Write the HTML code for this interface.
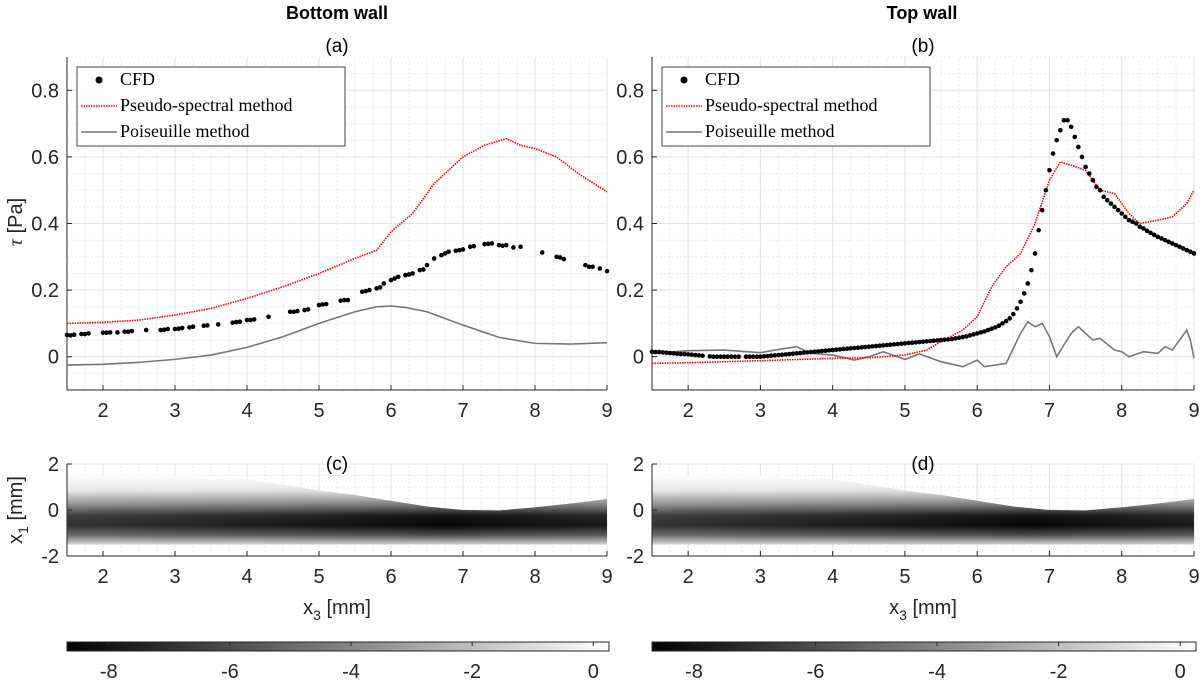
<!DOCTYPE html>
<html><head><meta charset="utf-8"><style>
html,body{margin:0;padding:0;background:#fff;}
svg{display:block;font-family:"Liberation Sans",sans-serif;}
</style></head><body>
<svg id="fig" width="1200" height="686" viewBox="0 0 1200 686">
<defs>
<linearGradient id="vgrad" x1="0" y1="0" x2="0" y2="1">
<stop offset="0" stop-color="#ffffff"/>
<stop offset="0.22" stop-color="#e0e0e0"/>
<stop offset="0.42" stop-color="#7a7a7a"/>
<stop offset="0.58" stop-color="#151515"/>
<stop offset="0.72" stop-color="#050505"/>
<stop offset="0.86" stop-color="#4a4a4a"/>
<stop offset="1" stop-color="#d0d0d0"/>
</linearGradient>
<linearGradient id="hfade" x1="0" y1="0" x2="1" y2="0">
<stop offset="0" stop-color="#fff" stop-opacity="0.18"/>
<stop offset="0.4" stop-color="#fff" stop-opacity="0.08"/>
<stop offset="0.7" stop-color="#fff" stop-opacity="0"/>
<stop offset="1" stop-color="#fff" stop-opacity="0.08"/>
</linearGradient>
<linearGradient id="cbar" x1="0" y1="0" x2="1" y2="0">
<stop offset="0" stop-color="#000"/><stop offset="1" stop-color="#fff"/>
</linearGradient>
</defs>
<text x="337" y="19" font-size="18" font-weight="bold" text-anchor="middle" fill="#000">Bottom wall</text>
<text x="922" y="19" font-size="18" font-weight="bold" text-anchor="middle" fill="#000">Top wall</text>
<g id="layer"></g>
</svg>
<script>
// ---------- data ----------
const aPseudoX=[1.5,2,2.5,3,3.5,4,4.5,5,5.5,5.8,6,6.3,6.6,6.8,7,7.3,7.6,7.8,8,8.3,8.6,9];
const aPseudoY=[0.10,0.103,0.11,0.125,0.145,0.175,0.21,0.25,0.295,0.32,0.375,0.43,0.52,0.56,0.60,0.635,0.655,0.635,0.625,0.60,0.55,0.495];
const aCfdX=[1.5,1.55,1.6,1.7,1.75,1.8,2.0,2.05,2.1,2.2,2.3,2.35,2.4,2.6,2.8,2.85,2.9,3.0,3.05,3.1,3.2,3.25,3.4,3.45,3.6,3.8,3.85,3.9,4.0,4.05,4.1,4.3,4.6,4.65,4.7,4.8,4.85,5.0,5.05,5.1,5.3,5.35,5.4,5.6,5.65,5.7,5.8,5.85,5.9,6.0,6.05,6.1,6.2,6.25,6.3,6.4,6.45,6.5,6.6,6.7,6.75,6.8,6.9,6.95,7.0,7.1,7.15,7.3,7.35,7.4,7.5,7.55,7.6,7.7,7.8,8.1,8.3,8.35,8.4,8.7,8.75,8.8,8.9,9.0];
const aCfdY=[0.065,0.064,0.066,0.068,0.068,0.07,0.072,0.072,0.073,0.073,0.075,0.075,0.077,0.08,0.08,0.081,0.083,0.083,0.084,0.086,0.088,0.09,0.093,0.094,0.097,0.102,0.104,0.105,0.11,0.11,0.112,0.12,0.135,0.135,0.137,0.14,0.142,0.155,0.157,0.158,0.168,0.17,0.17,0.195,0.197,0.2,0.205,0.208,0.22,0.23,0.235,0.24,0.245,0.247,0.25,0.26,0.262,0.275,0.295,0.305,0.31,0.315,0.318,0.32,0.322,0.33,0.332,0.338,0.339,0.34,0.335,0.333,0.335,0.328,0.33,0.313,0.30,0.298,0.293,0.275,0.27,0.27,0.265,0.257];
const aPoisX=[1.5,2,2.5,3,3.5,4,4.5,5,5.5,5.8,6,6.2,6.5,7,7.5,8,8.5,9];
const aPoisY=[-0.025,-0.023,-0.017,-0.008,0.005,0.028,0.06,0.10,0.135,0.15,0.152,0.148,0.135,0.095,0.058,0.04,0.038,0.042];
const bPseudoX=[1.5,2,3,4,4.5,5,5.3,5.5,5.8,6,6.2,6.4,6.6,6.8,7,7.15,7.3,7.5,7.7,7.9,8.1,8.25,8.5,8.7,8.9,9];
const bPseudoY=[-0.02,-0.018,-0.012,-0.005,-0.003,0.005,0.02,0.045,0.08,0.12,0.21,0.27,0.31,0.40,0.53,0.585,0.575,0.56,0.50,0.49,0.43,0.40,0.41,0.42,0.46,0.50];
const bCfdX=[1.5,1.55,1.6,1.65,1.7,1.75,1.8,1.85,1.9,1.95,2.0,2.05,2.1,2.15,2.2,2.3,2.35,2.4,2.45,2.5,2.55,2.6,2.65,2.7,2.8,2.85,2.9,2.95,3.0,3.05,3.1,3.15,3.2,3.25,3.3,3.35,3.4,3.45,3.5,3.55,3.6,3.65,3.7,3.75,3.8,3.85,3.9,3.95,4.0,4.05,4.1,4.15,4.2,4.25,4.3,4.35,4.4,4.45,4.5,4.55,4.6,4.65,4.7,4.75,4.8,4.85,4.9,4.95,5.0,5.05,5.1,5.15,5.2,5.25,5.3,5.35,5.4,5.45,5.5,5.55,5.6,5.65,5.7,5.75,5.8,5.85,5.9,5.95,6.0,6.05,6.1,6.15,6.2,6.25,6.3,6.35,6.4,6.45,6.5,6.55,6.6,6.65,6.7,6.75,6.8,6.85,6.9,6.95,7.0,7.05,7.1,7.15,7.2,7.25,7.3,7.35,7.4,7.45,7.5,7.55,7.6,7.65,7.7,7.75,7.8,7.85,7.9,7.95,8.0,8.05,8.1,8.15,8.2,8.25,8.3,8.35,8.4,8.45,8.5,8.55,8.6,8.65,8.7,8.75,8.8,8.85,8.9,8.95,9.0];
const bCfdY=[0.015,0.014,0.014,0.013,0.012,0.011,0.01,0.009,0.008,0.008,0.007,0.006,0.005,0.004,0.003,0.001,0.0,0.0,0.0,0.0,0.0,0.0,0.0,0.0,0.0,0.0,0.0,0.0,0.0,0.001,0.002,0.003,0.004,0.005,0.006,0.007,0.008,0.009,0.01,0.011,0.012,0.013,0.014,0.015,0.016,0.017,0.018,0.019,0.02,0.021,0.022,0.023,0.024,0.025,0.026,0.027,0.028,0.029,0.03,0.031,0.032,0.033,0.034,0.035,0.036,0.037,0.038,0.039,0.04,0.041,0.042,0.043,0.044,0.045,0.046,0.047,0.048,0.049,0.05,0.051,0.052,0.053,0.055,0.057,0.059,0.061,0.064,0.067,0.07,0.073,0.076,0.08,0.084,0.088,0.093,0.1,0.107,0.115,0.128,0.145,0.165,0.19,0.22,0.26,0.31,0.38,0.44,0.5,0.56,0.61,0.65,0.68,0.71,0.71,0.69,0.66,0.63,0.6,0.57,0.55,0.53,0.51,0.5,0.48,0.47,0.46,0.45,0.44,0.43,0.42,0.41,0.405,0.4,0.39,0.385,0.378,0.372,0.366,0.36,0.355,0.35,0.345,0.34,0.335,0.33,0.325,0.32,0.315,0.31];
const bPoisX=[1.5,2,2.5,3,3.2,3.5,3.7,4,4.3,4.5,4.7,5,5.2,5.5,5.8,6,6.1,6.4,6.6,6.7,6.8,6.9,7.0,7.1,7.3,7.4,7.6,7.7,7.9,8,8.1,8.3,8.5,8.6,8.7,8.9,8.95,9];
const bPoisY=[0.01,0.018,0.02,0.012,0.02,0.03,0.01,0.005,-0.01,0.0,0.015,-0.008,0.008,-0.015,-0.03,-0.01,-0.03,-0.02,0.07,0.105,0.09,0.10,0.06,0.0,0.07,0.09,0.05,0.055,0.02,0.015,0.0,0.015,0.01,0.03,0.02,0.08,0.05,-0.005];
const xTicks=[2,3,4,5,6,7,8,9];
const yTicks=[0,0.2,0.4,0.6,0.8];
const yTicksB=[-2,0,2];
const cTicks=[-8,-6,-4,-2,0];
const wallX=[1.5,2,2.5,3,3.5,3.8,4.5,5,5.5,6,6.5,7,7.5,8,8.5,9];
const wallTop=[1.5,1.5,1.5,1.5,1.48,1.43,1.1,0.85,0.65,0.4,0.15,0.0,-0.02,0.12,0.28,0.48];
const wallBot=-1.5;

const NS="http://www.w3.org/2000/svg";
const layer=document.getElementById('layer');
function mk(tag,attrs,parent){const e=document.createElementNS(NS,tag);for(const k in attrs)e.setAttribute(k,attrs[k]);(parent||layer).appendChild(e);return e;}
function lin(d0,d1,r0,r1){return v=>r0+(v-d0)/(d1-d0)*(r1-r0);}

function gridAxes(g,sx,sy,x0,x1,y0,y1,ticksY,minorY){
  for(let v=1.5;v<=9.001;v+=0.25){mk('line',{x1:sx(v),x2:sx(v),y1:sy(y0),y2:sy(y1),stroke:'#ebebeb','stroke-width':1,'stroke-dasharray':'2,2'},g);}
  for(let v=y0;v<=y1+1e-9;v+=minorY){mk('line',{x1:sx(x0),x2:sx(x1),y1:sy(v),y2:sy(v),stroke:'#ebebeb','stroke-width':1,'stroke-dasharray':'2,2'},g);}
  xTicks.forEach(t=>mk('line',{x1:sx(t),x2:sx(t),y1:sy(y0),y2:sy(y1),stroke:'#e3e3e3','stroke-width':1},g));
  ticksY.forEach(t=>mk('line',{x1:sx(x0),x2:sx(x1),y1:sy(t),y2:sy(t),stroke:'#e3e3e3','stroke-width':1},g));
}
function axesFrame(g,sx,sy,x0,x1,y0,y1,ticksY,fmt){
  mk('line',{x1:sx(x0),x2:sx(x1),y1:sy(y0),y2:sy(y0),stroke:'#262626','stroke-width':1},g);
  mk('line',{x1:sx(x0),x2:sx(x0),y1:sy(y0),y2:sy(y1),stroke:'#262626','stroke-width':1},g);
  xTicks.forEach(t=>{
    mk('line',{x1:sx(t),x2:sx(t),y1:sy(y0),y2:sy(y0)-5,stroke:'#262626'},g);
    const tx=mk('text',{x:sx(t),y:sy(y0)+27,'font-size':20,'text-anchor':'middle',fill:'#262626'},g);
    
    
    tx.textContent=t;
  });
  ticksY.forEach(t=>{
    mk('line',{x1:sx(x0),x2:sx(x0)+5,y1:sy(t),y2:sy(t),stroke:'#262626'},g);
    const ty=mk('text',{x:sx(x0)-8,y:sy(t)+7,'font-size':20,'text-anchor':'end',fill:'#262626'},g);
    
    
    ty.textContent=fmt(t);
  });
}
function line(g,sx,sy,xs,ys,attrs,name){
  const p=mk('polyline',Object.assign({points:xs.map((x,i)=>sx(x)+','+sy(ys[i])).join(' '),fill:'none'},attrs),g);
  
  
}
function dots(g,sx,sy,xs,ys,name){
  xs.forEach((x,i)=>{
    const c=mk('circle',{cx:sx(x),cy:sy(ys[i]),r:2.3,fill:'#000'},g);
    
    
  });
}
function legend(g,lx,ly){
  mk('rect',{x:lx,y:ly,width:268,height:79,fill:'#fff',stroke:'#444','stroke-width':1},g);
  mk('circle',{cx:lx+22,cy:ly+13,r:3.5,fill:'#000'},g);
  mk('line',{x1:lx+4,x2:lx+40,y1:ly+39,y2:ly+39,stroke:'#ff0000','stroke-width':1.5,'stroke-dasharray':'1.5,1'},g);
  mk('line',{x1:lx+4,x2:lx+40,y1:ly+65,y2:ly+65,stroke:'#777','stroke-width':1.5},g);
  [['CFD',18],['Pseudo-spectral method',44],['Poiseuille method',70]].forEach(([t,dy])=>{
    const e=mk('text',{x:lx+43,y:ly+dy,'font-size':18,'font-family':'Liberation Serif, serif',fill:'#000'},g);
    
    
    e.textContent=t;
  });
}
function topPanel(L,R,label,px,py,pois,cfd,name){
  const g=mk('g',{});
  
  
  const sx=lin(1.5,9,L,R), sy=lin(-0.1,0.9,390,57);
  gridAxes(g,sx,sy,1.5,9,-0.1,0.9,yTicks,0.05);
  axesFrame(g,sx,sy,1.5,9,-0.1,0.9,yTicks,t=>t===0?'0':t.toFixed(1));
  line(g,sx,sy,pois[0],pois[1],{stroke:'#777','stroke-width':1.6},'poiseuille-line');
  line(g,sx,sy,px,py,{stroke:'#ff0000','stroke-width':1.6,'stroke-dasharray':'1.5,1'},'pseudo-spectral-line');
  dots(g,sx,sy,cfd[0],cfd[1],'cfd-point');
  legend(g,L+10,67);
  const t=mk('text',{x:(L+R)/2,y:52,'font-size':19,'text-anchor':'middle',fill:'#000'},g);
  
  
  t.textContent=label;
}
topPanel(67,607,'(a)',aPseudoX,aPseudoY,[aPoisX,aPoisY],[aCfdX,aCfdY],'panel-a');
topPanel(652,1194,'(b)',bPseudoX,bPseudoY,[bPoisX,bPoisY],[bCfdX,bCfdY],'panel-b');
const yl=mk('text',{x:0,y:0,'font-size':20,'text-anchor':'middle',fill:'#262626',transform:'translate(22,222) rotate(-90)'});


yl.innerHTML='<tspan font-family="Liberation Serif, serif" font-style="italic">τ</tspan> [Pa]';

function bottomPanel(L,R,label,name){
  const g=mk('g',{});
  
  
  const sx=lin(1.5,9,L,R), sy=lin(-2,2,556,464);
  gridAxes(g,sx,sy,1.5,9,-2,2,yTicksB,0.5);
  let d='M'+sx(wallX[0])+','+sy(wallTop[0]);
  wallX.forEach((x,i)=>{d+=' L'+sx(x)+','+sy(wallTop[i]);});
  d+=' L'+sx(9)+','+sy(wallBot)+' L'+sx(1.5)+','+sy(wallBot)+' Z';
  const f=mk('path',{d:d,fill:'url(#vgrad)'},g);
  
  
  mk('path',{d:d,fill:'url(#hfade)'},g);
  axesFrame(g,sx,sy,1.5,9,-2,2,yTicksB,t=>String(t));
  const t=mk('text',{x:(L+R)/2,y:470,'font-size':19,'text-anchor':'middle',fill:'#000'},g);
  
  
  t.textContent=label;
  const xl=mk('text',{x:(L+R)/2,y:614,'font-size':20,'text-anchor':'middle',fill:'#262626'},g);
  
  
  xl.innerHTML='x<tspan font-size="14" dy="6">3</tspan><tspan dy="-6"> [mm]</tspan>';
  const cx=lin(-8.69,0.26,L,R+2);
  const cb=mk('rect',{x:L,y:642,width:R+2-L,height:9,fill:'url(#cbar)',stroke:'#262626','stroke-width':1},g);
  
  
  cTicks.forEach(v=>{
    mk('line',{x1:cx(v),x2:cx(v),y1:642,y2:646,stroke:'#262626'},g);
    const e=mk('text',{x:cx(v),y:678,'font-size':20,'text-anchor':'middle',fill:'#262626'},g);
    
    
    e.textContent=v;
  });
}
bottomPanel(67,607,'(c)','panel-c');
bottomPanel(652,1194,'(d)','panel-d');
const y1=mk('text',{x:0,y:0,'font-size':20,'text-anchor':'middle',fill:'#262626',transform:'translate(22,510) rotate(-90)'});


y1.innerHTML='x<tspan font-size="14" dy="6">1</tspan><tspan dy="-6"> [mm]</tspan>';
</script>
</body></html>
